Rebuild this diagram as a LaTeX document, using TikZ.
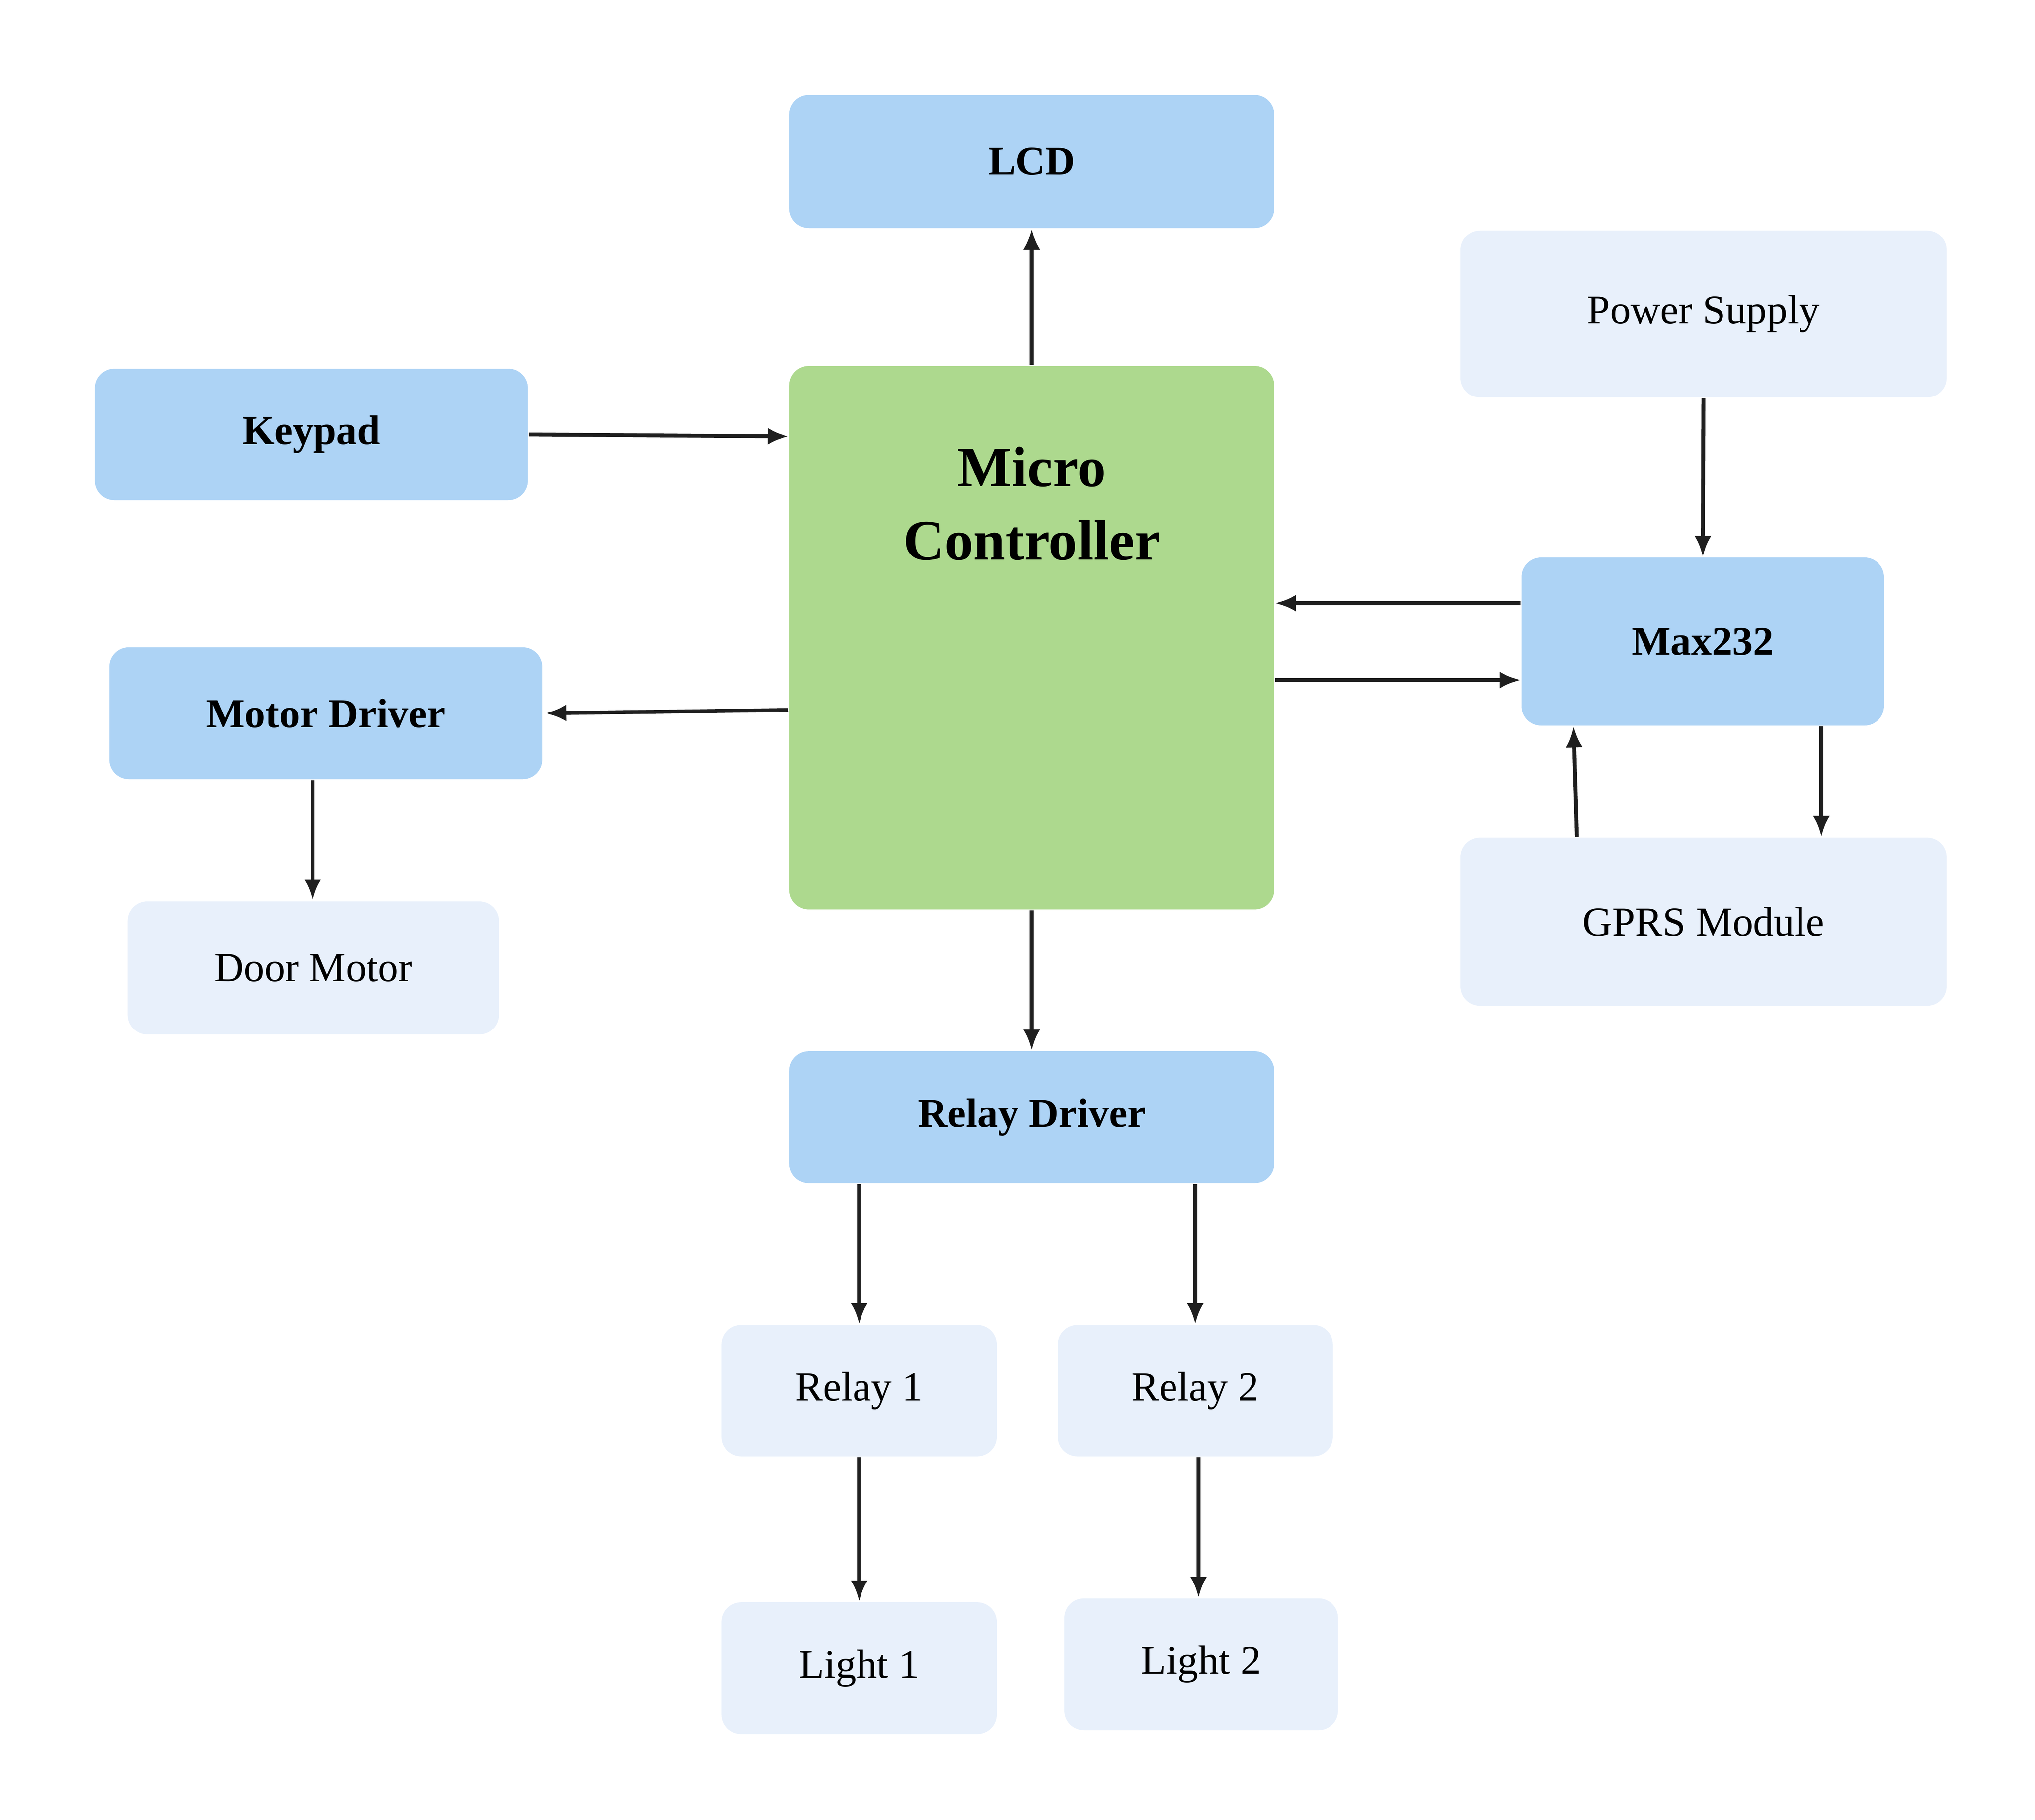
\documentclass[tikz,border=0pt]{standalone}
\usepackage{fontspec}
\setmainfont{Liberation Serif}
\usetikzlibrary{arrows.meta}

\begin{document}
\begin{tikzpicture}[x=0.01cm, y=-0.01cm,
  blk/.style={rounded corners=0.15cm, inner sep=0, font=\fontsize{9}{11}\selectfont},
  main/.style={blk, fill=blueA, font=\fontsize{9}{11}\selectfont\bfseries},
  part/.style={blk, fill=blueB},
  conn/.style={-{Latex[length=0.16cm,width=0.13cm]}, line width=0.85pt, draw=black!88}]
\definecolor{blueA}{HTML}{ADD3F5}
\definecolor{blueB}{HTML}{E8F0FB}
\definecolor{greenA}{HTML}{ADD98E}
\useasboundingbox (0,0) rectangle (1562,1397);
\node[main, minimum width=3.72cm, minimum height=1.02cm] (lcd) at (792,124) {LCD};
\node[part, minimum width=3.73cm, minimum height=1.28cm] (ps) at (1307.5,241) {Power Supply};
\node[main, minimum width=3.32cm, minimum height=1.01cm] (kp) at (239,333.5) {Keypad};
\node[blk, fill=greenA, minimum width=3.72cm, minimum height=4.17cm, align=center,
  font=\fontsize{12.5}{16}\selectfont\bfseries] (mc) at (792,489.5) {Micro\\Controller\\[1.5cm]};
\node[main, minimum width=2.78cm, minimum height=1.29cm] (max) at (1307,492.5) {Max232};
\node[main, minimum width=3.32cm, minimum height=1.01cm] (md) at (250,547.5) {Motor Driver};
\node[part, minimum width=2.85cm, minimum height=1.02cm] (dm) at (240.5,743) {Door Motor};
\node[part, minimum width=3.73cm, minimum height=1.29cm] (gprs) at (1307.5,707.5) {GPRS Module};
\node[main, minimum width=3.72cm, minimum height=1.01cm] (rd) at (792,857.5) {Relay Driver};
\node[part, minimum width=2.11cm, minimum height=1.01cm] (r1) at (659.5,1067.5) {Relay 1};
\node[part, minimum width=2.11cm, minimum height=1.01cm] (r2) at (917.5,1067.5) {Relay 2};
\node[part, minimum width=2.11cm, minimum height=1.01cm] (l1) at (659.5,1280.5) {Light 1};
\node[part, minimum width=2.10cm, minimum height=1.01cm] (l2) at (922,1277.5) {Light 2};
% links
\draw[conn] (mc.north) -- (lcd.south);
\draw[conn] (kp.east) -- ([yshift=-0.015cm]kp.east -| mc.west);
\draw[conn] ([yshift=-0.555cm]mc.west) -- ([xshift=0.02cm]md.east);
\draw[conn] ([xshift=-0.1cm]md.south) -- ([xshift=-0.1cm]md.south |- dm.north);
\draw[conn] (ps.south) -- (max.north);
\draw[conn] ([yshift=0.295cm]max.west) -- ([yshift=0.295cm]max.west -| mc.east);
\draw[conn] ([yshift=-0.295cm]max.west -| mc.east) -- ([yshift=-0.295cm]max.west);
\draw[conn] ([xshift=-0.97cm]gprs.north) -- ([xshift=-0.99cm]max.south);
\draw[conn] ([xshift=0.91cm]max.south) -- ([xshift=0.91cm]max.south |- gprs.north);
\draw[conn] (mc.south) -- (rd.south |- rd.north);
\draw[conn] (rd.south -| r1) -- (r1.north);
\draw[conn] (rd.south -| r2) -- (r2.north);
\draw[conn] (r1.south) -- (l1.north);
\draw[conn] ([xshift=0.025cm]r2.south) -- ([xshift=-0.02cm]l2.north);
\end{tikzpicture}
\end{document}
